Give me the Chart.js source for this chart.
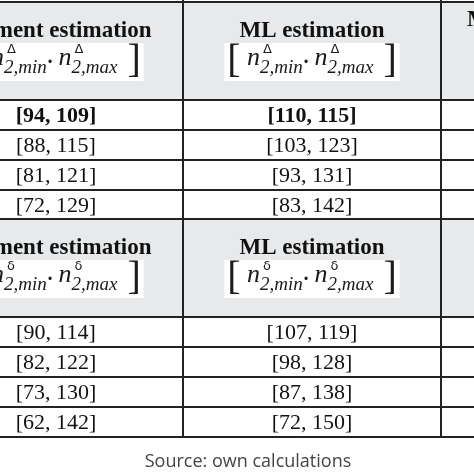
<!DOCTYPE html>
<html>
<head>
<meta charset="utf-8">
<script src="https://cdn.jsdelivr.net/npm/chart.js@4"></script>
<style>
  body { margin: 0; background: #fff; }
  canvas { display: block; }
</style>
</head>
<body>
<canvas id="tableChart" width="474" height="474"></canvas>
<script>
// Table contents
const headerTitles = ['Moment estimation', 'ML estimation', 'MLE'];
const sectionSymbols = ['\u0394', '\u03B4'];
const deltaMoment = ['[94, 109]', '[88, 115]', '[81, 121]', '[72, 129]'];
const deltaML = ['[110, 115]', '[103, 123]', '[93, 131]', '[83, 142]'];
const smallDeltaMoment = ['[90, 114]', '[82, 122]', '[73, 130]', '[62, 142]'];
const smallDeltaML = ['[107, 119]', '[98, 128]', '[87, 138]', '[72, 150]'];
const sourceNote = 'Source: own calculations';

// grid geometry (in scale units, 0..474)
const colEdges = [-71, 183, 441, 700];
const sectionTops = [2, 219];
const headerHeight = 98;
const rowHeight = 30;

const tablePlugin = {
    id: 'tablePlugin',
    afterDraw(chart) {
        const ctx = chart.ctx;
        const xs = chart.scales.x, ys = chart.scales.y;
        const px = v => xs.getPixelForValue(v);
        const py = v => ys.getPixelForValue(v);

        const sections = [
            { sym: sectionSymbols[0], cols: [deltaMoment, deltaML], boldFirst: true },
            { sym: sectionSymbols[1], cols: [smallDeltaMoment, smallDeltaML], boldFirst: false }
        ];

        ctx.save();
        sections.forEach((sec, s) => {
            const top = sectionTops[s];
            // header background
            ctx.fillStyle = '#e7e9ea';
            ctx.fillRect(px(0), py(top), px(474) - px(0), py(top + headerHeight) - py(top));

            // header titles
            for (let c = 0; c < 2; c++) {
                const cx = px((colEdges[c] + colEdges[c + 1]) / 2);
                ctx.fillStyle = '#111';
                ctx.textBaseline = 'middle';
                ctx.textAlign = 'center';
                ctx.font = 'bold 23px "Liberation Serif"';
                ctx.fillText(headerTitles[c], cx, py(top + 29));
                drawFormula(ctx, cx, py(top + 59), sec.sym);
            }
            if (s === 0) {
                ctx.fillStyle = '#111';
                ctx.textAlign = 'left';
                ctx.font = 'bold 23px "Liberation Serif"';
                ctx.fillText(headerTitles[2], px(467), py(top + 18));
            }

            // data rows
            for (let c = 0; c < 2; c++) {
                const cx = px((colEdges[c] + colEdges[c + 1]) / 2);
                sec.cols[c].forEach((val, r) => {
                    ctx.textAlign = 'center';
                    ctx.textBaseline = 'middle';
                    ctx.font = (sec.boldFirst && r === 0 ? 'bold ' : '') + '22px "Liberation Serif"';
                    ctx.fillStyle = '#111';
                    ctx.fillText(val, cx, py(top + headerHeight + rowHeight * r + 16));
                });
            }

            // horizontal lines
            ctx.strokeStyle = '#222';
            ctx.lineWidth = 2;
            const lines = [top, top + headerHeight];
            for (let r = 1; r <= 4; r++) lines.push(top + headerHeight + rowHeight * r);
            lines.forEach(y => {
                ctx.beginPath();
                ctx.moveTo(px(0), py(y));
                ctx.lineTo(px(474), py(y));
                ctx.stroke();
            });
        });

        // vertical lines
        [colEdges[1], colEdges[2]].forEach(x => {
            ctx.beginPath();
            ctx.moveTo(px(x), py(0));
            ctx.lineTo(px(x), py(sectionTops[1] + headerHeight + rowHeight * 4 + 1));
            ctx.stroke();
        });

        // source note
        ctx.fillStyle = '#444';
        ctx.textAlign = 'center';
        ctx.textBaseline = 'middle';
        ctx.font = '18px "Open Sans"';
        ctx.fillText(sourceNote, px(248), py(462));
        ctx.restore();
    }
};

// draws [n^sym_{2,min}, n^sym_{2,max}] centred on cx
function drawFormula(ctx, cx, cy, sym) {
    const parts = [
        { t: '[', f: '40px "Liberation Serif"', dy: 0 },
        { t: ' n', f: 'italic 26px "Liberation Serif"', dy: -3 },
        { t: sym, f: '13px "DejaVu Sans"', dy: -11, stack: true },
        { t: '2,min', f: 'italic 19px "Liberation Serif"', dy: 7 },
        { t: '\u00B7 ', f: 'bold 20px "Liberation Serif"', dy: 2 },
        { t: 'n', f: 'italic 26px "Liberation Serif"', dy: -3 },
        { t: sym, f: '13px "DejaVu Sans"', dy: -11, stack: true },
        { t: '2,max', f: 'italic 19px "Liberation Serif"', dy: 7 },
        { t: ' ]', f: '40px "Liberation Serif"', dy: 0 }
    ];
    let total = 0;
    parts.forEach(p => {
        ctx.font = p.f;
        p.w = p.stack ? 0 : ctx.measureText(p.t).width;
        total += p.w;
    });
    const boxW = total + 6;
    ctx.fillStyle = '#fff';
    ctx.fillRect(cx - boxW / 2, cy - 18, boxW, 38);
    let x = cx - total / 2;
    ctx.textAlign = 'left';
    ctx.textBaseline = 'middle';
    parts.forEach(p => {
        ctx.font = p.f;
        ctx.fillStyle = '#1a1a1a';
        ctx.fillText(p.t, x + (p.stack ? 3 : 0), cy + p.dy);
        x += p.w;
    });
}

new Chart(document.getElementById('tableChart'), {
    type: 'scatter',
    data: { datasets: [] },
    options: {
        responsive: false,
        animation: false,
        layout: { padding: 0 },
        plugins: { legend: { display: false }, tooltip: { enabled: false } },
        scales: {
            x: { type: 'linear', min: 0, max: 474, display: false },
            y: { type: 'linear', min: 0, max: 474, reverse: true, display: false }
        }
    },
    plugins: [tablePlugin]
});
</script>
</body>
</html>
